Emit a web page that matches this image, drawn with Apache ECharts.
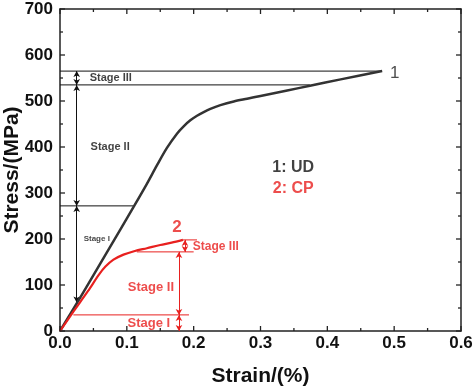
<!DOCTYPE html>
<html>
<head>
<meta charset="utf-8">
<script src="https://cdn.jsdelivr.net/npm/echarts@6/dist/echarts.min.js"></script>
<style>html,body{margin:0;padding:0;background:#fff;}#c{width:474px;height:390px;}</style>
</head>
<body>
<div id="c"></div>
<script>
// ---- data ----
const udStrain = [0, 0.03, 0.06, 0.09, 0.111, 0.13, 0.145, 0.16, 0.175, 0.185, 0.195, 0.205, 0.215, 0.225, 0.24, 0.26, 0.28, 0.30, 0.34, 0.374, 0.42, 0.482];
const udStress = [0, 72, 146, 220, 272, 320, 360, 398, 429, 445, 458, 468, 476, 483, 491, 499, 505, 511, 523, 533, 547, 565];
const cpStrain = [0, 0.02, 0.042, 0.058, 0.068, 0.08, 0.095, 0.112, 0.13, 0.15, 0.167, 0.184];
const cpStress = [0, 42, 87, 122, 140, 155, 166, 174, 180, 187, 192, 198];

// stage boundary lines: [stress, strainFrom, strainTo]
const udLevels = [[565, 0, 0.482], [535, 0, 0.374], [272, 0, 0.111]];
const cpLevels = [[198, 0.184, 0.205], [172, 0.115, 0.200], [35, 0.02, 0.193]];
// double arrows: [strain, stressFrom, stressTo]
const udArrows = [[0.025, 565, 535], [0.025, 535, 272], [0.025, 272, 62]];
const cpArrows = [[0.187, 198, 172], [0.178, 172, 35], [0.178, 35, 0]];
// labels: [strain, stress, text, size]
const udLabels = [[0.076, 551, 'Stage III', 11], [0.075, 399, 'Stage II', 11], [0.055, 200, 'Stage I', 8]];
const cpLabels = [[0.198, 183, 'Stage III', 12, 'left'], [0.136, 94, 'Stage II', 13], [0.133, 17, 'Stage I', 13], [0.175, 226, '2', 17]];
const legendLabels = [[0.349, 355, '1: UD', '#111'], [0.349, 309, '2: CP', '#e8201f']];
// tick values
const xTicks = [0, 0.1, 0.2, 0.3, 0.4, 0.5, 0.6];
const xMinorTicks = [0.05, 0.15, 0.25, 0.35, 0.45, 0.55];
const yTicks = [0, 100, 200, 300, 400, 500, 600, 700];
const yMinorTicks = [50, 150, 250, 350, 450, 550, 650];
const X_MIN = 0, X_MAX = 0.6, Y_MIN = 0, Y_MAX = 700;

const BLACK = '#333333';
const RED = '#e8201f';
const FONT = 'Liberation Sans, Arial, sans-serif';

function zip(a, b) { return a.map((v, i) => [v, b[i]]); }

const series = [];
series.push({ type: 'line', data: zip(udStrain, udStress), smooth: 0.3, symbol: 'none',
  lineStyle: { color: BLACK, width: 2.5 }, z: 5 });
series.push({ type: 'line', data: zip(cpStrain, cpStress), smooth: 0.3, symbol: 'none',
  lineStyle: { color: RED, width: 2.2 }, z: 5 });

function levelSeries(levels, color) {
  levels.forEach(l => series.push({ type: 'line', data: [[l[1], l[0]], [l[2], l[0]]], symbol: 'none',
    lineStyle: { color: color, width: 1 }, z: 3 }));
}
levelSeries(udLevels, '#111');
levelSeries(cpLevels, RED);

function arrowSeries(arrows, color) {
  series.push({ type: 'line', data: [], markLine: {
    silent: true, symbol: ['arrow', 'arrow'], symbolSize: [5, 6],
    label: { show: false },
    lineStyle: { color: color, width: 1, type: 'solid' },
    data: arrows.map(a => [{ coord: [a[0], a[1]] }, { coord: [a[0], a[2]] }])
  } });
}
arrowSeries(udArrows, '#111');
arrowSeries(cpArrows, RED);

function labelSeries(labels, color) {
  series.push({ type: 'scatter', symbolSize: 1, itemStyle: { color: 'transparent' }, z: 10,
    data: labels.map(l => ({ value: [l[0], l[1]], name: l[2],
      label: { show: true, position: l[4] === 'left' ? 'right' : 'inside', distance: 0,
        formatter: '{b}', color: color, fontSize: l[3], fontWeight: 'bold', fontFamily: FONT } })) });
}
labelSeries(udLabels, '#111');
labelSeries(cpLabels, RED);
series.push({ type: 'scatter', symbolSize: 1, itemStyle: { color: 'transparent' }, z: 10,
  data: legendLabels.map(l => ({ value: [l[0], l[1]], name: l[2],
    label: { show: true, position: 'inside', formatter: '{b}', color: l[3], fontSize: 16, fontWeight: 'bold', fontFamily: FONT } })) });
series.push({ type: 'scatter', symbolSize: 1, itemStyle: { color: 'transparent' }, z: 10,
  data: [{ value: [0.490, 561], name: '1',
    label: { show: true, position: 'right', distance: 2, formatter: '{b}', color: '#222', fontSize: 17, fontFamily: FONT } }] });

// inward tick marks on all four sides, placed through the axis scales
// data item: [value, kind]  kind: 0 x-major, 1 x-minor, 2 y-major, 3 y-minor
const tickData = [].concat(
  xTicks.map(v => [v, 0]), xMinorTicks.map(v => [v, 1]),
  yTicks.map(v => [v, 2]), yMinorTicks.map(v => [v, 3]));
series.push({
  type: 'custom', z: 20, silent: true, clip: false,
  encode: { x: -1, y: -1 },
  data: tickData,
  renderItem: function (params, api) {
    const v = api.value(0), kind = api.value(1);
    const len = (kind === 0 || kind === 2) ? 5 : 3;
    const style = { stroke: '#222', lineWidth: 1.3 };
    if (kind < 2) {
      const b = api.coord([v, Y_MIN]), t = api.coord([v, Y_MAX]);
      return { type: 'group', children: [
        { type: 'line', shape: { x1: b[0], y1: b[1], x2: b[0], y2: b[1] - len }, style: style },
        { type: 'line', shape: { x1: t[0], y1: t[1], x2: t[0], y2: t[1] + len }, style: style }
      ] };
    } else {
      const l = api.coord([X_MIN, v]), r = api.coord([X_MAX, v]);
      return { type: 'group', children: [
        { type: 'line', shape: { x1: l[0], y1: l[1], x2: l[0] + len, y2: l[1] }, style: style },
        { type: 'line', shape: { x1: r[0], y1: r[1], x2: r[0] - len, y2: r[1] }, style: style }
      ] };
    }
  }
});

function axisBase() {
  return {
    type: 'value',
    axisLine: { show: true, onZero: false, lineStyle: { color: '#222', width: 1.5 } },
    axisTick: { show: false },
    minorTick: { show: false },
    splitLine: { show: false },
    minorSplitLine: { show: false },
  };
}

const option = {
  animation: false,
  textStyle: { fontFamily: FONT },
  grid: { left: 60, right: 13, top: 9, bottom: 59, containLabel: false, outerBoundsMode: 'none' },
  xAxis: [
    Object.assign(axisBase(), { min: X_MIN, max: X_MAX, interval: 0.1, position: 'bottom',
      name: 'Strain/(%)', nameLocation: 'middle', nameGap: 35, nameMoveOverlap: false,
      nameTextStyle: { fontSize: 21, fontWeight: 'bold', color: '#111', fontFamily: FONT },
      axisLabel: { margin: 4, fontSize: 17, fontWeight: 'bold', color: '#111', fontFamily: FONT,
        formatter: v => xTicks.some(t => Math.abs(t - v) < 1e-9) ? v.toFixed(1) : '' } }),
    Object.assign(axisBase(), { min: X_MIN, max: X_MAX, interval: 0.1, position: 'top', axisLabel: { show: false } })
  ],
  yAxis: [
    Object.assign(axisBase(), { min: Y_MIN, max: Y_MAX, interval: 100, position: 'left',
      name: 'Stress/(MPa)', nameLocation: 'middle', nameGap: 37, nameMoveOverlap: false,
      nameTextStyle: { fontSize: 21, fontWeight: 'bold', color: '#111', fontFamily: FONT },
      axisLabel: { margin: 7, fontSize: 17, fontWeight: 'bold', color: '#111', fontFamily: FONT,
        formatter: v => yTicks.includes(v) ? String(v) : '' } }),
    Object.assign(axisBase(), { min: Y_MIN, max: Y_MAX, interval: 100, position: 'right', axisLabel: { show: false } })
  ],
  series: series
};

echarts.init(document.getElementById('c')).setOption(option);
</script>
</body>
</html>
